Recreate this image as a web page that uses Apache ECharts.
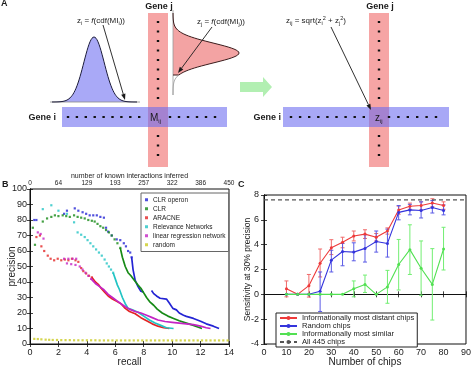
<!DOCTYPE html>
<html><head><meta charset="utf-8">
<script src="https://cdn.jsdelivr.net/npm/echarts@6/dist/echarts.min.js"></script>
<style>html,body{margin:0;padding:0;background:#fff}#c{width:474px;height:368px}</style>
</head><body><div id="c"></div>
<script>
// ---------- Panel B data (recall %, precision %) ----------
const topTickLabels = [0, 64, 129, 193, 257, 322, 386, 450];
const bNames = ['CLR operon', 'CLR', 'ARACNE', 'Relevance Networks', 'linear regression network', 'random'];
const clrOperonDots = [[0.3,80],[0.45,80],[2.4,84],[2.6,86],[3.15,87.5],[3.4,86],[3.7,85],[3.95,84],[4.2,83],[4.45,83],[4.7,83],[4.95,82],[5.2,81.5],[5.35,75],[5.5,72.5],[5.75,70],[6.1,67.5],[6.35,67],[6.6,65],[6.75,63],[6.9,60],[7.05,59],[7.15,56]];
const clrOperonLineA = [[7.15,56],[7.25,48],[7.4,41],[7.6,37],[7.8,34],[8.0,33.5]];
const clrOperonLineB = [[8.55,34.5],[8.7,32.5],[8.9,31],[9.15,29.5],[9.6,29],[9.8,26.5],[10.05,23],[10.3,22],[10.5,20],[10.8,18.5],[11.0,17.8],[11.5,16.5],[12.0,14.7],[12.4,13],[12.9,11.5],[13.3,10]];
const clrDots = [[0.2,75],[0.35,64],[0.9,79],[1.2,81],[1.5,82],[1.75,83],[2.0,82.5],[2.3,83],[2.55,82.5],[2.8,82],[3.1,83],[3.35,82],[3.6,81.5],[3.85,81],[4.1,80],[4.35,79.5],[4.55,79],[4.75,77.5],[4.95,76],[5.15,75],[5.35,73.5],[5.55,72],[5.75,70],[5.95,67.5],[6.15,65],[6.35,62]];
const clrLine = [[6.35,62],[6.5,56],[6.7,50],[6.9,46],[7.1,44],[7.35,41],[7.6,38],[7.8,36],[8.0,33],[8.2,30],[8.45,27],[8.7,25],[8.95,22.5],[9.3,20],[9.7,18],[10.1,16.5],[10.5,15],[11.0,13.5],[11.5,12],[11.8,11],[12.1,10]];
const aracneDots = [[0.45,69],[0.7,70],[0.8,63],[1.0,60],[1.25,57],[1.45,55],[1.7,54],[1.95,55],[2.2,54],[2.45,54.5],[2.7,54],[2.95,55],[3.2,54],[3.4,53],[3.6,49],[3.75,47],[3.95,45.5],[4.15,44],[4.35,43]];
const aracneLine = [[4.35,43],[4.6,40],[4.8,38.5],[5.0,36],[5.25,33.5],[5.5,31],[5.8,29],[6.1,27.5],[6.4,26],[6.7,23],[7.0,21],[7.4,19.5],[7.8,17],[8.2,15],[8.6,13],[9.0,11.5],[9.4,10.5],[9.8,10]];
const relevanceDots = [[0.9,87],[1.5,89.5],[2.0,86],[2.6,84],[3.1,78.5],[3.35,72],[3.6,70.5],[3.85,69],[4.05,67],[4.25,65],[4.45,63],[4.65,61],[4.85,59],[5.05,57],[5.25,54.5],[5.4,52],[5.55,50],[5.7,48],[5.85,46]];
const relevanceLine = [[5.85,46],[6.0,42],[6.15,38],[6.3,35],[6.5,30],[6.7,26],[6.9,23],[7.2,22],[7.6,20.5],[8.0,18],[8.4,15.5],[8.8,13.5],[9.2,12],[9.6,10.5],[10.1,10]];
const linregDots = [[0.55,72],[0.75,71],[0.95,68],[2.4,55],[2.7,55],[3.0,55],[3.25,55],[2.6,52],[2.9,51.5],[3.2,51],[3.5,50],[3.7,48],[3.9,46],[4.1,44],[4.3,42]];
const linregLine = [[4.3,42],[4.6,39],[4.9,37],[5.2,35],[5.5,32],[5.8,30],[6.1,28],[6.4,26],[6.7,24],[7.0,22.5],[7.4,21],[7.8,20],[8.2,18.5],[8.6,17],[9.0,15.5],[9.5,14.5],[10.0,14],[10.5,13.5],[11.0,13],[11.5,12.5],[12.0,11.5],[12.4,10.5],[12.7,10]];
const randomDots = [[0.3,3.3],[0.55,3.2],[0.8,3.0],[1.1,2.8],[1.35,2.7],[1.6,2.6],[1.9,2.6],[2.2,2.5],[2.5,2.5],[2.8,2.5],[3.1,2.4],[3.4,2.4],[3.7,2.4],[4.0,2.4],[4.3,2.4],[4.6,2.4],[4.9,2.3],[5.2,2.3],[5.5,2.3],[5.8,2.3],[6.1,2.3],[6.4,2.3],[6.7,2.3],[7.0,2.3],[7.3,2.3],[7.6,2.3],[7.9,2.3],[8.2,2.3],[8.5,2.3],[8.8,2.3],[9.1,2.3],[9.4,2.3],[9.7,2.3],[10.0,2.3],[10.3,2.3],[10.6,2.3],[10.9,2.3],[11.2,2.3],[11.5,2.3],[11.8,2.3],[12.1,2.3],[12.4,2.3],[12.7,2.3],[13.0,2.3],[13.3,2.3],[13.6,2.3],[13.9,2.3]];

// ---------- Panel C data ----------
const chips = [10,15,20,25,30,35,40,45,50,55,60,65,70,75,80];
const distantVal = [0.45,0.0,0.7,2.5,3.75,4.2,4.7,4.85,4.6,5.1,6.8,7.1,7.15,7.35,7.15];
const distantLo  = [-0.2,0.0,-0.22,1.4,3.2,3.75,4.3,4.5,4.3,4.85,6.45,6.85,6.8,7.05,6.85];
const distantHi  = [1.08,0.0,1.6,3.65,4.4,4.6,5.1,5.2,4.9,5.35,7.1,7.35,7.45,7.7,7.45];
const randomVal  = [0,0,0,0.25,2.75,3.45,3.4,3.7,4.25,4.1,6.6,6.8,6.75,7.0,6.75];
const randomLo   = [0,0,0,-1.38,1.8,2.3,2.7,2.6,3.4,3.0,6.0,6.4,6.15,6.55,6.4];
const randomHi   = [0,0,0,1.8,3.55,4.1,4.15,4.8,5.1,5.25,7.15,7.25,7.45,7.55,7.2];
const similarVal = [0,0,0,0,0,0,0.45,0.8,0,0.6,2.4,3.6,2.1,0.8,3.65];
const similarLo  = [0,0,0,0,0,0,-0.2,0.15,0,-0.72,0.35,1.6,-0.08,-2.07,1.96];
const similarHi  = [0,0,0,0,0,0,1.08,1.55,0,1.93,4.42,5.6,4.3,3.68,5.4];
const allChipsLevel = 7.6;
const cNames = ['Informationally most distant chips','Random chips','Informationally most similar','All 445 chips'];

const FONT = 'Liberation Sans, Arial, Helvetica, sans-serif';
const ink = '#1a1a1a';

// ---------- Panel A schematic (graphic elements) ----------
const g = [];
function R(x,y,w,h,fill,z){g.push({type:'rect',shape:{x:x,y:y,width:w,height:h},style:{fill:fill},silent:true,z:z||1});}
function L(x1,y1,x2,y2,stroke,w,z){g.push({type:'line',shape:{x1:x1,y1:y1,x2:x2,y2:y2},style:{stroke:stroke,lineWidth:w},silent:true,z:z||5});}
function P(points,style,type,z){g.push({type:type||'polygon',shape:{points:points},style:style,silent:true,z:z||2});}
function T(x,y,text,font,align,va,rich){g.push({type:'text',x:x,y:y,style:{text:text,font:font,fill:ink,align:align||'left',verticalAlign:va||'middle',rich:rich},silent:true,z:6});}
function ARW(x1,y1,x2,y2){
  const a=Math.atan2(y2-y1,x2-x1), hl=6, hw=2.2;
  const bx=x2-hl*Math.cos(a), by=y2-hl*Math.sin(a);
  L(x1,y1,bx,by,ink,0.9,5);
  P([[x2,y2],[bx-hw*Math.sin(a),by+hw*Math.cos(a)],[bx+hw*Math.sin(a),by-hw*Math.cos(a)]],{fill:ink},'polygon',5);
}
function DOT(x,y){R(x-1.2,y-1,2.4,2,'#111',4);}

const redBar='rgba(240,110,110,0.62)', blueBar='rgba(105,105,240,0.58)';
R(148,13,20,154,redBar,1);
R(62,107,165,20,blueBar,2);
R(369,13,20,154,redBar,1);
R(283,107,166,20,blueBar,2);
for(let k=0;k<15;k++){const y=22+9.5*k; if(y>106&&y<128) continue; DOT(158,y); DOT(379,y);}
for(let k=0;k<9;k++){DOT(68+8.9*k,117); DOT(291+9.1*k,117);}
for(let k=0;k<6;k++){DOT(170+9*k,117); DOT(389+9.4*k,117);}

// blue gaussian (schematic shape)
const bg=[]; for(let x=52;x<=137;x++){bg.push([x,102-65*Math.exp(-Math.pow((x-94)/10.2,2)/2)]);}
P(bg.concat([[137,102],[52,102]]),{fill:'#a9a9f7'},'polygon',2);
L(50,102,140,102,'#8a8a8a',0.8,3);
P(bg,{stroke:'#1c1c3a',lineWidth:1,fill:null},'polyline',3);
// red gaussian (rotated schematic)
const rg=[]; for(let y=13;y<=75;y++){rg.push([173+66*Math.exp(-Math.pow((y-53)/10,2)/2),y]);}
P(rg.concat([[173,75],[173,13]]),{fill:'#f3a3a3'},'polygon',2);
L(173,10,173,95,'#9a9a9a',0.8,3);
P(rg.concat([[173,75]]),{stroke:'#3a1c1c',lineWidth:1,fill:null},'polyline',3);
const rt=[]; for(let y=75;y<=95;y++){rt.push([173+66*Math.exp(-Math.pow((y-53)/10,2)/2),y]);}
P(rt,{stroke:'#9a9a9a',lineWidth:0.8,fill:null},'polyline',3);

// green arrow
P([[240,82],[263,82],[263,77],[272,87],[263,97],[263,92],[240,92]],{fill:'#b2efb2'},'polygon',2);

ARW(103,25,125,100);
ARW(212,27,178,73);
ARW(331,27,371,110);

const rich = {
  n:{fontSize:8,fontFamily:FONT,lineHeight:11,color:ink},
  i:{fontSize:8,fontFamily:FONT,fontStyle:'italic',lineHeight:11,color:ink},
  s:{fontSize:5.5,fontFamily:FONT,lineHeight:6,verticalAlign:'bottom',color:ink},
  p:{fontSize:5.5,fontFamily:FONT,lineHeight:6,verticalAlign:'top',color:ink},
  m:{fontSize:10,fontFamily:FONT,lineHeight:13,color:ink},
  ms:{fontSize:6,fontFamily:FONT,lineHeight:7,verticalAlign:'bottom',color:ink}
};
T(1,4,'A','bold 9px '+FONT,'left','middle');
T(159,7,'Gene j','bold 9px '+FONT,'center','middle');
T(380,7,'Gene j','bold 9px '+FONT,'center','middle');
T(56,118,'Gene i','bold 9px '+FONT,'right','middle');
T(281,118,'Gene i','bold 9px '+FONT,'right','middle');
T(150,118,'{m|M}{ms|ij}',null,'left','middle',rich);
T(375,118,'{m|z}{ms|ij}',null,'left','middle',rich);
T(77,21,'{n|z}{s|i}{n| = }{i|f}{n|(cdf(MI}{s|i}{n|))}',null,'left','middle',rich);
T(197,22,'{n|z}{s|j}{n| = }{i|f}{n|(cdf(MI}{s|j}{n|))}',null,'left','middle',rich);
T(286,21,'{n|z}{s|ij}{n| = sqrt(z}{s|i}{p|2}{n| + z}{s|j}{p|2}{n|)}',null,'left','middle',rich);
T(2,185,'B','bold 9px '+FONT,'left','middle');
T(238,185,'C','bold 9px '+FONT,'left','middle');

// ---------- helpers ----------
const axLine={show:true,lineStyle:{color:'#111',width:1}};
const tickIn={show:true,inside:true,length:3,lineStyle:{color:'#111',width:0.8}};
const lab={fontSize:9,color:'#222',fontFamily:FONT};
function dots(name,data,color){return {type:'scatter',name:name,xAxisIndex:0,yAxisIndex:0,data:data,symbol:'rect',symbolSize:2.2,itemStyle:{color:color},silent:true,z:3};}
function curve(name,data,color){return {type:'line',name:name,xAxisIndex:0,yAxisIndex:0,data:data,showSymbol:false,symbol:'none',lineStyle:{color:color,width:1.7},itemStyle:{color:color},silent:true,z:3};}
function errBars(lo,hi,color){
  const data=chips.map((x,i)=>[x,lo[i],hi[i]]).filter(d=>d[2]>d[1]);
  return {type:'custom',xAxisIndex:2,yAxisIndex:2,data:data,silent:true,z:2,
    renderItem:function(params,api){
      const x=api.value(0);
      const p1=api.coord([x,api.value(2)]), p2=api.coord([x,api.value(1)]);
      const w=2, st={stroke:color,lineWidth:1};
      return {type:'group',children:[
        {type:'line',shape:{x1:p1[0],y1:p1[1],x2:p2[0],y2:p2[1]},style:st},
        {type:'line',shape:{x1:p1[0]-w,y1:p1[1],x2:p1[0]+w,y2:p1[1]},style:st},
        {type:'line',shape:{x1:p2[0]-w,y1:p2[1],x2:p2[0]+w,y2:p2[1]},style:st}]};
    }};
}
function cLine(name,vals,color){return {type:'line',name:name,xAxisIndex:2,yAxisIndex:2,data:chips.map((x,i)=>[x,vals[i]]),symbol:'circle',symbolSize:3,showSymbol:true,lineStyle:{color:color,width:1.1},itemStyle:{color:color},silent:true,z:3};}

const cB={operon:'#2424d4',clr:'#168a16',aracne:'#e42424',rel:'#22c4c4',lin:'#c424c4',rnd:'#caca22'};

const option={
  animation:false,
  textStyle:{fontFamily:FONT},
  graphic:{elements:g},
  grid:[
    {left:30,top:189,width:199,height:159,show:true,borderColor:'#111',borderWidth:1,backgroundColor:'#fff'},
    {left:264,top:195,width:203,height:151,show:true,borderColor:'#111',borderWidth:1,backgroundColor:'#fff'}
  ],
  xAxis:[
    {type:'value',gridIndex:0,min:0,max:14,interval:2,axisLine:axLine,axisTick:tickIn,axisLabel:Object.assign({margin:4},lab),splitLine:{show:false},
     name:'recall',nameLocation:'middle',nameGap:13,nameMoveOverlap:false,nameTextStyle:{fontSize:10,color:'#222'}},
    {type:'value',gridIndex:0,position:'top',min:0,max:14,interval:2,axisLine:axLine,axisTick:tickIn,
     axisLabel:{fontSize:6.5,color:'#222',margin:2,formatter:function(v){return String(topTickLabels[Math.round(v/2)]);}},splitLine:{show:false},
     name:'number of known interactions inferred',nameLocation:'middle',nameGap:9,nameMoveOverlap:false,nameTextStyle:{fontSize:7,color:'#222'}},
    {type:'value',gridIndex:1,min:0,max:90,interval:10,axisLine:axLine,axisTick:tickIn,axisLabel:Object.assign({margin:4},lab),splitLine:{show:false},
     name:'Number of chips',nameLocation:'middle',nameGap:13,nameMoveOverlap:false,nameTextStyle:{fontSize:10,color:'#222'}},
    {type:'value',gridIndex:1,position:'top',min:0,max:90,interval:10,axisLine:axLine,axisTick:tickIn,axisLabel:{show:false},splitLine:{show:false}}
  ],
  yAxis:[
    {type:'value',gridIndex:0,min:0,max:100,interval:10,axisLine:axLine,axisTick:tickIn,axisLabel:Object.assign({margin:3},lab),splitLine:{show:false},
     name:'precision',nameLocation:'middle',nameGap:13,nameMoveOverlap:false,nameTextStyle:{fontSize:10,color:'#222'}},
    {type:'value',gridIndex:0,position:'right',min:0,max:100,interval:10,axisLine:axLine,axisTick:tickIn,axisLabel:{show:false},splitLine:{show:false}},
    {type:'value',gridIndex:1,min:-4,max:8,interval:2,axisLine:axLine,axisTick:tickIn,axisLabel:Object.assign({margin:5},lab),splitLine:{show:false},
     name:'Sensitivity at 30% precision',nameLocation:'middle',nameGap:12,nameMoveOverlap:false,nameTextStyle:{fontSize:8.5,color:'#222'}},
    {type:'value',gridIndex:1,position:'right',min:-4,max:8,interval:2,axisLine:axLine,axisTick:tickIn,axisLabel:{show:false},splitLine:{show:false}}
  ],
  legend:[
    {left:141,top:193,orient:'vertical',data:bNames.map(n=>({name:n,icon:'rect'})),itemWidth:3,itemHeight:3,itemGap:1.5,
     textStyle:{fontSize:6.5,color:'#222',lineHeight:7.5},padding:[3,3,3,4],borderColor:'#666',borderWidth:1,backgroundColor:'#fff',selectedMode:false},
    {left:276,top:313,orient:'vertical',data:cNames,itemWidth:17,itemHeight:5,itemGap:0,
     textStyle:{fontSize:7.6,color:'#222',lineHeight:7},padding:[1,3,1,3],borderColor:'#222',borderWidth:1,backgroundColor:'#fff',selectedMode:false}
  ],
  series:[
    dots(bNames[0],clrOperonDots,cB.operon), curve(bNames[0],clrOperonLineA,cB.operon), curve(bNames[0],clrOperonLineB,cB.operon),
    dots(bNames[1],clrDots,cB.clr), curve(bNames[1],clrLine,cB.clr),
    dots(bNames[2],aracneDots,cB.aracne), curve(bNames[2],aracneLine,cB.aracne),
    dots(bNames[3],relevanceDots,cB.rel), curve(bNames[3],relevanceLine,cB.rel),
    dots(bNames[4],linregDots,cB.lin), curve(bNames[4],linregLine,cB.lin),
    dots(bNames[5],randomDots,cB.rnd),
    errBars(distantLo,distantHi,'#f06a6a'),
    errBars(randomLo,randomHi,'#5a5ae6'),
    errBars(similarLo,similarHi,'#72ee72'),
    cLine(cNames[0],distantVal,'#ee3a3a'),
    cLine(cNames[1],randomVal,'#3434dc'),
    cLine(cNames[2],similarVal,'#52e052'),
    {type:'line',name:cNames[3],xAxisIndex:2,yAxisIndex:2,data:[[0,allChipsLevel],[90,allChipsLevel]],symbol:'none',showSymbol:false,
     lineStyle:{color:'#555',width:1.3,type:[4,3]},itemStyle:{color:'#555'},silent:true,z:2}
  ]
};
const chart=echarts.init(document.getElementById('c'),null,{renderer:'canvas'});
chart.setOption(option);
</script></body></html>
